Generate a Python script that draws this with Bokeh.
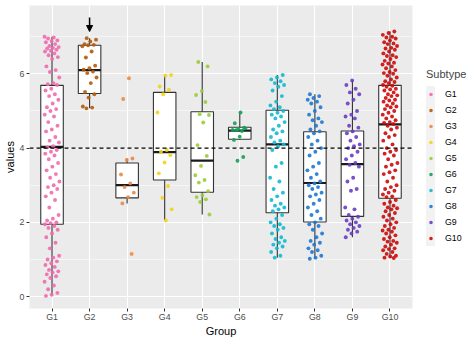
from bokeh.plotting import figure
from bokeh.models import (Range1d, FixedTicker, Span, Arrow, NormalHead, Legend, LegendItem)
from bokeh.embed import file_html
from bokeh.resources import INLINE

groups = ["G1", "G2", "G3", "G4", "G5", "G6", "G7", "G8", "G9", "G10"]
colors = ["#F06BAE", "#B35A0C", "#E8894A", "#F2D518", "#9ACD3C",
          "#13A058", "#12B8D0", "#1E78D2", "#6B3CC4", "#CC0A0A"]

# box statistics
q1 = [1.95, 5.47, 2.66, 3.14, 2.81, 4.24, 2.26, 2.01, 2.16, 2.65]
med = [4.03, 6.10, 3.00, 3.89, 3.66, 4.47, 4.10, 3.06, 3.57, 4.64]
q3 = [5.69, 6.77, 3.60, 5.50, 4.98, 4.56, 5.02, 4.44, 4.46, 5.69]
whisk_lo = [0.03, 5.07, 2.51, 2.05, 2.21, 4.22, 1.05, 1.02, 1.60, 1.04]
whisk_hi = [7.00, 6.96, 3.72, 5.97, 6.32, 4.96, 5.97, 5.45, 5.82, 7.14]

# point values per group
g1 = [7.0, 6.98, 6.95, 6.9, 6.88, 6.85, 6.8, 6.75, 6.72, 6.7, 6.68, 6.65, 6.62, 6.6, 6.55, 6.5,
      6.45, 6.4, 6.2, 6.1, 6.05, 5.9, 5.75, 5.72, 5.7, 5.6, 5.55, 5.45, 5.4, 5.3, 5.2, 5.1, 5.05,
      5.0, 4.9, 4.85, 4.7, 4.6, 4.5, 4.45, 4.3, 4.2, 4.15, 4.05, 4.02, 3.95, 3.9, 3.85, 3.8, 3.7,
      3.6, 3.5, 3.4, 3.3, 3.2, 3.1, 3.0, 2.95, 2.9, 2.8, 2.7, 2.6, 2.4, 2.2, 2.1, 2.05, 2.0, 1.98,
      1.95, 1.9, 1.85, 1.8, 1.7, 1.6, 1.45, 1.3, 1.1, 1.05, 1.0, 0.95, 0.9, 0.85, 0.8, 0.72, 0.68,
      0.65, 0.6, 0.55, 0.5, 0.4, 0.3, 0.2, 0.1, 0.05, 0.02]
g2 = [6.96, 6.92, 6.87, 6.80, 6.78, 6.77, 6.74, 6.60, 6.44, 6.22, 6.15, 6.11, 6.06, 6.02, 5.90,
      5.75, 5.51, 5.45, 5.36, 5.12, 5.09, 5.07]
g3 = [5.88, 5.32, 3.72, 3.68, 3.29, 3.05, 2.95, 2.80, 2.68, 2.51, 1.15]
g4 = [5.97, 5.95, 5.66, 5.57, 5.45, 4.96, 3.95, 3.90, 3.81, 3.61, 3.32, 2.98, 2.66, 2.35, 2.05]
g5 = [6.32, 6.20, 5.54, 5.43, 5.24, 4.91, 4.89, 4.69, 4.08, 3.79, 3.52, 3.27, 3.14, 3.07, 2.84,
      2.73, 2.68, 2.62, 2.55, 2.21]
g6 = [4.96, 4.67, 4.55, 4.51, 4.49, 4.46, 4.48, 4.53, 4.31, 4.22, 3.76, 3.66]
g7 = [5.97, 5.9, 5.85, 5.8, 5.75, 5.7, 5.65, 5.55, 5.4, 5.25, 5.15, 5.1, 5.05, 5.0, 4.95, 4.9,
      4.85, 4.8, 4.7, 4.6, 4.5, 4.45, 4.4, 4.3, 4.2, 4.15, 4.1, 4.05, 3.95, 3.6, 3.5, 3.2, 3.1,
      2.9, 2.8, 2.7, 2.6, 2.5, 2.45, 2.4, 2.35, 2.3, 2.2, 2.1, 2.0, 1.95, 1.9, 1.85, 1.8, 1.7,
      1.6, 1.55, 1.5, 1.45, 1.4, 1.35, 1.3, 1.2, 1.1, 1.05]
g8 = [5.45, 5.4, 5.35, 5.3, 5.25, 5.2, 5.1, 5.0, 4.9, 4.8, 4.75, 4.7, 4.6, 4.5, 4.45, 4.4, 4.3,
      4.2, 4.1, 4.0, 3.9, 3.8, 3.6, 3.5, 3.4, 3.3, 3.2, 3.1, 3.05, 3.0, 2.95, 2.9, 2.8, 2.75, 2.7,
      2.6, 2.5, 2.4, 2.3, 2.2, 2.1, 2.0, 1.95, 1.9, 1.8, 1.7, 1.6, 1.5, 1.45, 1.4, 1.3, 1.25, 1.2,
      1.1, 1.05, 1.02]
g9 = [5.82, 5.7, 5.6, 5.5, 5.45, 5.3, 5.2, 5.0, 4.9, 4.85, 4.8, 4.6, 4.55, 4.45, 4.4, 4.3, 4.2,
      4.1, 4.05, 4.0, 3.9, 3.8, 3.7, 3.6, 3.55, 3.5, 3.2, 3.1, 2.9, 2.85, 2.4, 2.35, 2.2, 2.15,
      2.1, 2.05, 2.0, 1.95, 1.9, 1.85, 1.8, 1.75, 1.7, 1.6]
g10 = [7.14, 7.1, 7.05, 7.0, 6.98, 6.95, 6.9, 6.85, 6.82, 6.8, 6.75, 6.7, 6.68, 6.65, 6.6, 6.55,
       6.5, 6.48, 6.45, 6.4, 6.35, 6.3, 6.28, 6.25, 6.2, 6.15, 6.1, 6.05, 6.02, 6.0,
       5.95, 5.9, 5.85, 5.8, 5.78, 5.75, 5.7, 5.68, 5.65, 5.6, 5.58, 5.55, 5.5, 5.45, 5.42, 5.4,
       5.35, 5.3, 5.28, 5.25, 5.2, 5.15, 5.12, 5.1, 5.05, 5.0, 4.95, 4.9, 4.85, 4.8, 4.75, 4.7,
       4.68, 4.65, 4.6, 4.55, 4.5, 4.4, 4.35, 4.3, 4.2, 4.1, 4.0, 3.95, 3.9, 3.85, 3.8, 3.7, 3.6,
       3.55, 3.5, 3.4, 3.35, 3.3, 3.2, 3.1, 3.0, 2.95, 2.9, 2.85, 2.8, 2.75, 2.7, 2.68,
       2.6, 2.55, 2.5, 2.45, 2.4, 2.38, 2.35, 2.3, 2.25, 2.2, 2.15, 2.1, 2.05, 2.0, 1.95, 1.9,
       1.85, 1.8, 1.78, 1.75, 1.7, 1.65, 1.6, 1.55, 1.5, 1.48, 1.45, 1.4, 1.35, 1.3, 1.28, 1.25,
       1.2, 1.15, 1.1, 1.08, 1.05, 1.04]
point_values = [g1, g2, g3, g4, g5, g6, g7, g8, g9, g10]

ref_value = 4
arrow_group = 2
arrow_top = 7.52
arrow_tip = 7.14

FONT = "Liberation Sans"
BOX_W = 0.6
JITTER = 0.2

p = figure(frame_width=383, frame_height=303, x_range=Range1d(0.4, 10.6), y_range=Range1d(-0.32, 7.84),
           output_backend="svg", toolbar_location=None,
           min_border_left=10, min_border_top=5, min_border_bottom=0, min_border_right=4)
p.background_fill_color = "#EBEBEB"
p.border_fill_color = "white"
p.outline_line_color = None

pos = list(range(1, len(groups) + 1))
p.xaxis.ticker = FixedTicker(ticks=pos)
p.xgrid.ticker = FixedTicker(ticks=pos)
p.xaxis.major_label_overrides = {i: g for i, g in zip(pos, groups)}
p.yaxis.ticker = FixedTicker(ticks=[0, 2, 4, 6], minor_ticks=[1, 3, 5, 7])
for g in (p.xgrid[0], p.ygrid[0]):
    g.grid_line_color = "white"
    g.grid_line_width = 1.1
p.ygrid.minor_grid_line_color = "white"
p.ygrid.minor_grid_line_width = 0.5

for ax in (p.xaxis[0], p.yaxis[0]):
    ax.axis_line_color = None
    ax.major_tick_line_color = "#333333"
    ax.major_tick_in = 0
    ax.major_tick_out = 3
    ax.minor_tick_line_color = None
    ax.major_label_text_font = FONT
    ax.major_label_text_font_size = "8.8px"
    ax.major_label_text_color = "#4D4D4D"
    ax.major_label_standoff = 1
    ax.axis_label_text_font = FONT
    ax.axis_label_text_font_size = "11px"
    ax.axis_label_text_font_style = "normal"
    ax.axis_label_text_color = "black"
    ax.axis_label_standoff = 1
p.xaxis[0].major_label_standoff = 0
p.xaxis[0].axis_label_standoff = 0
p.xaxis.axis_label = "Group"
p.yaxis.axis_label = "values"

# boxes
p.vbar(x=pos, width=BOX_W, bottom=q1, top=q3, fill_color="white",
       line_color="#333333", line_width=1.1)
p.segment(x0=pos, x1=pos, y0=q3, y1=whisk_hi, line_color="#333333", line_width=1.1)
p.segment(x0=pos, x1=pos, y0=whisk_lo, y1=q1, line_color="#333333", line_width=1.1)
p.segment(x0=[x - BOX_W / 2 for x in pos], x1=[x + BOX_W / 2 for x in pos],
          y0=med, y1=med, line_color="#1A1A1A", line_width=2.2)

# key background helper for legend (zero-size, invisible in the plot area)
key_bg = p.rect(x=[1], y=[ref_value], width=0, height=0, fill_color="#F2F2F2",
                line_color="#F2F2F2", line_width=5)

items = []
for i, (g, c, vals) in enumerate(zip(groups, colors, point_values)):
    xs = [pos[i] + ((k * 0.618034 + 0.31 * i) % 1 - 0.5) * 2 * JITTER for k in range(len(vals))]
    r = p.scatter(x=xs, y=vals, size=3.9, fill_color=c, line_color=None, fill_alpha=0.9)
    items.append(LegendItem(label=g, renderers=[key_bg, r]))

p.add_layout(Span(location=ref_value, dimension="width", line_color="black",
                  line_dash="4 3", line_width=1.2))
p.add_layout(Arrow(x_start=arrow_group, y_start=arrow_top, x_end=arrow_group, y_end=arrow_tip,
                   line_width=1.5, line_color="black",
                   end=NormalHead(size=6, fill_color="black", line_color="black")))

legend = Legend(items=items, location="center_left", title="Subtype",
                border_line_color=None, background_fill_alpha=0,
                glyph_width=9, glyph_height=16, spacing=0, padding=0, margin=14,
                label_standoff=10, label_text_font=FONT, label_text_font_size="8.8px",
                label_text_color="black", title_text_font=FONT, title_text_font_size="11px",
                title_text_font_style="normal", title_standoff=6)
p.add_layout(legend, "right")

open("out.html", "w").write(file_html(p, INLINE))
